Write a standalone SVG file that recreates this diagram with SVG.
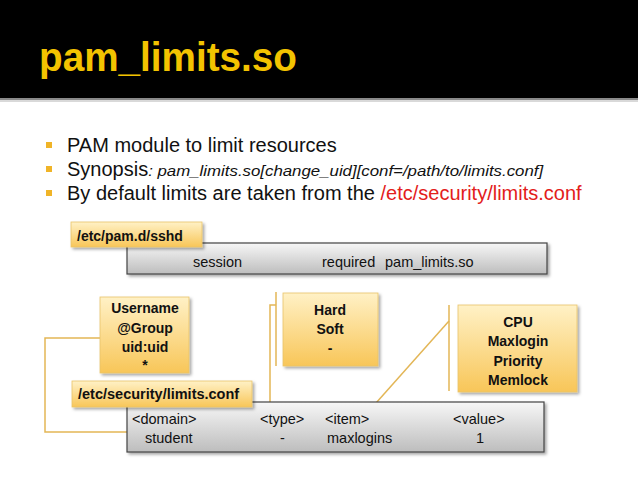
<svg xmlns="http://www.w3.org/2000/svg" width="638" height="478" viewBox="0 0 638 478">
<style>
.title{font-family:"Liberation Sans",Arial,sans-serif;font-weight:bold;fill:#f3c300;font-size:40px}
.body{font-family:"Liberation Sans",Arial,sans-serif;font-size:20px;fill:#111}
.ital{font-family:"Liberation Sans",Arial,sans-serif;font-style:italic;font-size:15px;fill:#111}
.red{fill:#e3201b}
.lbl{font-family:"Liberation Sans",Arial,sans-serif;font-weight:bold;font-size:14px;fill:#111}
.mid{text-anchor:middle}
.cell{font-family:"Liberation Sans",Arial,sans-serif;font-size:14.5px;fill:#111}
.ybox{fill:url(#yg);stroke:#e9c46a;stroke-width:0.8;filter:url(#sh)}
.gbox{fill:url(#gg);stroke:#444;stroke-width:1.2;filter:url(#sh)}
.con{fill:none;stroke:#e3b656;stroke-width:1.5}
.bul{fill:#f0b428}
</style>
<defs>
<linearGradient id="yg" x1="0" y1="0" x2="0" y2="1">
<stop offset="0" stop-color="#fff1c6"/>
<stop offset="1" stop-color="#f8c658"/>
</linearGradient>
<linearGradient id="gg" x1="0" y1="0" x2="0" y2="1">
<stop offset="0" stop-color="#f7f7f7"/>
<stop offset="1" stop-color="#bdbdbd"/>
</linearGradient>
<filter id="sh" x="-10%" y="-20%" width="120%" height="150%">
<feDropShadow dx="2" dy="2" stdDeviation="1.5" flood-color="#000" flood-opacity="0.35"/>
</filter>
</defs>
<rect x="0" y="0" width="638" height="478" fill="#fff"/>
<g id="header">
<rect x="0" y="0" width="638" height="98" fill="#000"/>
<rect x="0" y="98" width="638" height="2" fill="#8a8a8a"/>
<rect x="0" y="100" width="638" height="2" fill="#d9d9d9"/>
<text class="title" x="39" y="71" textLength="258" lengthAdjust="spacingAndGlyphs">pam_limits.so</text>
</g>
<g id="bullets">
<rect class="bul" x="46" y="142" width="6" height="6"/>
<rect class="bul" x="46" y="166" width="6" height="6"/>
<rect class="bul" x="46" y="190" width="6" height="6"/>
<text class="body" x="67" y="152">PAM module to limit resources</text>
<text class="body" x="67" y="176">Synopsis<tspan class="ital" textLength="395" lengthAdjust="spacingAndGlyphs">: pam_limits.so[change_uid][conf=/path/to/limits.conf]</tspan></text>
<text class="body" x="67" y="200">By default limits are taken from the <tspan class="red">/etc/security/limits.conf</tspan></text>
</g>
<g id="connectors">
<polyline class="con" points="100,338 45,338 45,432 138,432"/>
<line class="con" x1="276" y1="292" x2="276" y2="366"/>
<polyline class="con" points="276,305 270,305 270,416"/>
<line class="con" x1="449" y1="305" x2="449" y2="391"/>
<line class="con" x1="449" y1="321" x2="368" y2="412"/>
</g>
<g id="sshd-box">
<rect class="gbox" x="127" y="243" width="420" height="31"/>
<text class="cell" x="193" y="267">session</text>
<text class="cell" x="322" y="267">required</text>
<text class="cell" x="385" y="267">pam_limits.so</text>
</g>
<g id="sshd-label">
<rect class="ybox" x="71" y="222" width="131" height="25"/>
<text class="lbl" x="77" y="241">/etc/pam.d/sshd</text>
</g>
<g id="domain-box">
<rect class="ybox" x="100" y="297" width="89" height="76"/>
<text class="lbl mid" x="145" y="313">Username</text>
<text class="lbl mid" x="145" y="333">@Group</text>
<text class="lbl mid" x="145" y="352">uid:uid</text>
<text class="lbl mid" x="145" y="370">*</text>
</g>
<g id="type-box">
<rect class="ybox" x="283" y="293" width="95" height="73"/>
<text class="lbl mid" x="330" y="315">Hard</text>
<text class="lbl mid" x="330" y="334">Soft</text>
<text class="lbl mid" x="330" y="353">-</text>
</g>
<g id="item-box">
<rect class="ybox" x="458" y="305" width="119" height="87"/>
<text class="lbl mid" x="518" y="327">CPU</text>
<text class="lbl mid" x="518" y="346">Maxlogin</text>
<text class="lbl mid" x="518" y="366">Priority</text>
<text class="lbl mid" x="518" y="385">Memlock</text>
</g>
<g id="limits-box">
<rect class="gbox" x="127" y="402" width="417" height="50"/>
<text class="cell" x="132" y="424">&lt;domain&gt;</text>
<text class="cell" x="145" y="443">student</text>
<text class="cell" x="260" y="424">&lt;type&gt;</text>
<text class="cell" x="280" y="443">-</text>
<text class="cell" x="325" y="424">&lt;item&gt;</text>
<text class="cell" x="327" y="443">maxlogins</text>
<text class="cell" x="453" y="424">&lt;value&gt;</text>
<text class="cell" x="476" y="443">1</text>
</g>
<g id="limits-label">
<rect class="ybox" x="72" y="381" width="180" height="26"/>
<text class="lbl" x="78" y="399" style="font-size:14.5px">/etc/security/limits.conf</text>
</g>
</svg>
